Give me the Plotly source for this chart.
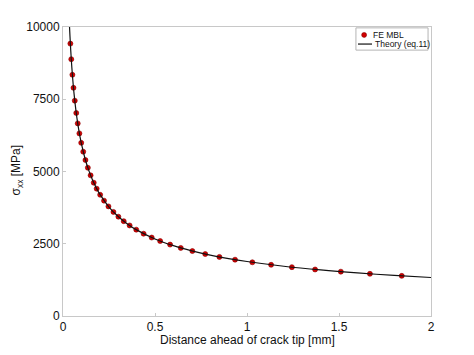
import plotly.graph_objects as go

# FE MBL data points (distance in mm, sigma_xx in MPa)
fe_x = [0.040, 0.045, 0.051, 0.057, 0.064, 0.072, 0.080, 0.089, 0.099, 0.110,
        0.122, 0.135, 0.150, 0.167, 0.183, 0.202, 0.223, 0.247, 0.274, 0.301,
        0.330, 0.362, 0.398, 0.438, 0.482, 0.528, 0.582, 0.640, 0.703, 0.773,
        0.850, 0.935, 1.029, 1.131, 1.244, 1.370, 1.510, 1.668, 1.841]
fe_y = [9425, 8886, 8347, 7895, 7451, 7025, 6665, 6319, 5991, 5684,
        5397, 5130, 4867, 4613, 4406, 4194, 3992, 3793, 3601, 3436,
        3281, 3133, 2988, 2848, 2715, 2594, 2471, 2356, 2248, 2144,
        2045, 1949, 1858, 1772, 1690, 1610, 1534, 1460, 1389]

# Theory (eq.11) curve
th_x = [0.0355, 0.038, 0.042, 0.046, 0.050, 0.055, 0.060, 0.070, 0.080, 0.090,
        0.100, 0.120, 0.140, 0.160, 0.180, 0.200, 0.250, 0.300, 0.350, 0.400,
        0.500, 0.600, 0.700, 0.800, 0.900, 1.000, 1.200, 1.400, 1.600, 1.800, 2.000]
th_y = [10000, 9670, 9198, 8789, 8430, 8038, 7695, 7125, 6665, 6283,
        5961, 5441, 5038, 4713, 4443, 4215, 3770, 3442, 3186, 2980,
        2666, 2434, 2253, 2107, 1987, 1885, 1721, 1593, 1490, 1405, 1333]

x_ticks = [0, 0.5, 1, 1.5, 2]
x_tick_labels = ["0", "0.5", "1", "1.5", "2"]
y_ticks = [0, 2500, 5000, 7500, 10000]
y_tick_labels = ["0", "2500", "5000", "7500", "10000"]

series_names = ["FE MBL", "Theory (eq.11)"]
dot_color = "#d10000"
dot_edge = "#8a0000"
line_color = "#111111"
font_family = "Liberation Sans, Arial"

fig = go.Figure()
fig.add_trace(go.Scatter(
    x=fe_x, y=fe_y, mode="markers", name=series_names[0], showlegend=False,
    marker=dict(color=dot_color, size=5, line=dict(color=dot_edge, width=0.6)),
))
fig.add_trace(go.Scatter(
    x=th_x, y=th_y, mode="lines", name=series_names[1], showlegend=False,
    line=dict(color=line_color, width=1.2, shape="spline"),
))

axis_common = dict(
    showgrid=False, zeroline=False, showline=True, mirror=True, automargin=False,
    linecolor="#c8c8c8", linewidth=1, ticks="inside", ticklen=3,
    tickcolor="#c8c8c8", tickfont=dict(family=font_family, size=12, color="#111111"),
)

# compact legend box (paper coordinates)
shapes = [
    dict(type="rect", xref="paper", yref="paper", x0=0.796, x1=0.992, y0=0.920, y1=0.997,
         line=dict(color="#b4b4b4", width=1), fillcolor="white", layer="above"),
    dict(type="circle", xref="paper", yref="paper", x0=0.8115, x1=0.8250, y0=0.9640, y1=0.9810,
         line=dict(color=dot_edge, width=0.6), fillcolor=dot_color, layer="above"),
    dict(type="line", xref="paper", yref="paper", x0=0.8016, x1=0.8397, y0=0.941, y1=0.941,
         line=dict(color=line_color, width=1.2), layer="above"),
]
annotations = [
    dict(xref="paper", yref="paper", x=0.837, y=0.973, xanchor="left", yanchor="middle",
         text=series_names[0], showarrow=False, font=dict(family=font_family, size=8.5, color="#111111")),
    dict(xref="paper", yref="paper", x=0.8424, y=0.941, xanchor="left", yanchor="middle",
         text=series_names[1], showarrow=False, font=dict(family=font_family, size=8.5, color="#111111")),
    dict(xref="paper", yref="paper", x=0.5, y=-0.082, xanchor="center", yanchor="middle",
         text="Distance ahead of crack tip [mm]", showarrow=False,
         font=dict(family=font_family, size=12, color="#111111")),
    dict(xref="paper", yref="paper", x=-0.124, y=0.505, xanchor="center", yanchor="middle",
         text="σ<sub>xx</sub> [MPa]", textangle=-90, showarrow=False,
         font=dict(family=font_family, size=12, color="#111111")),
]

fig.update_layout(
    width=466, height=347,
    margin=dict(l=55, r=43, t=19, b=39, autoexpand=False),
    paper_bgcolor="white", plot_bgcolor="white",
    font=dict(family=font_family, size=12, color="#111111"),
    xaxis=dict(range=[0, 2], tickvals=x_ticks, ticktext=x_tick_labels, **axis_common),
    yaxis=dict(range=[0, 10000], tickvals=y_ticks, ticktext=y_tick_labels, **axis_common),
    shapes=shapes,
    annotations=annotations,
    showlegend=False,
)

fig.write_html("out.html")
